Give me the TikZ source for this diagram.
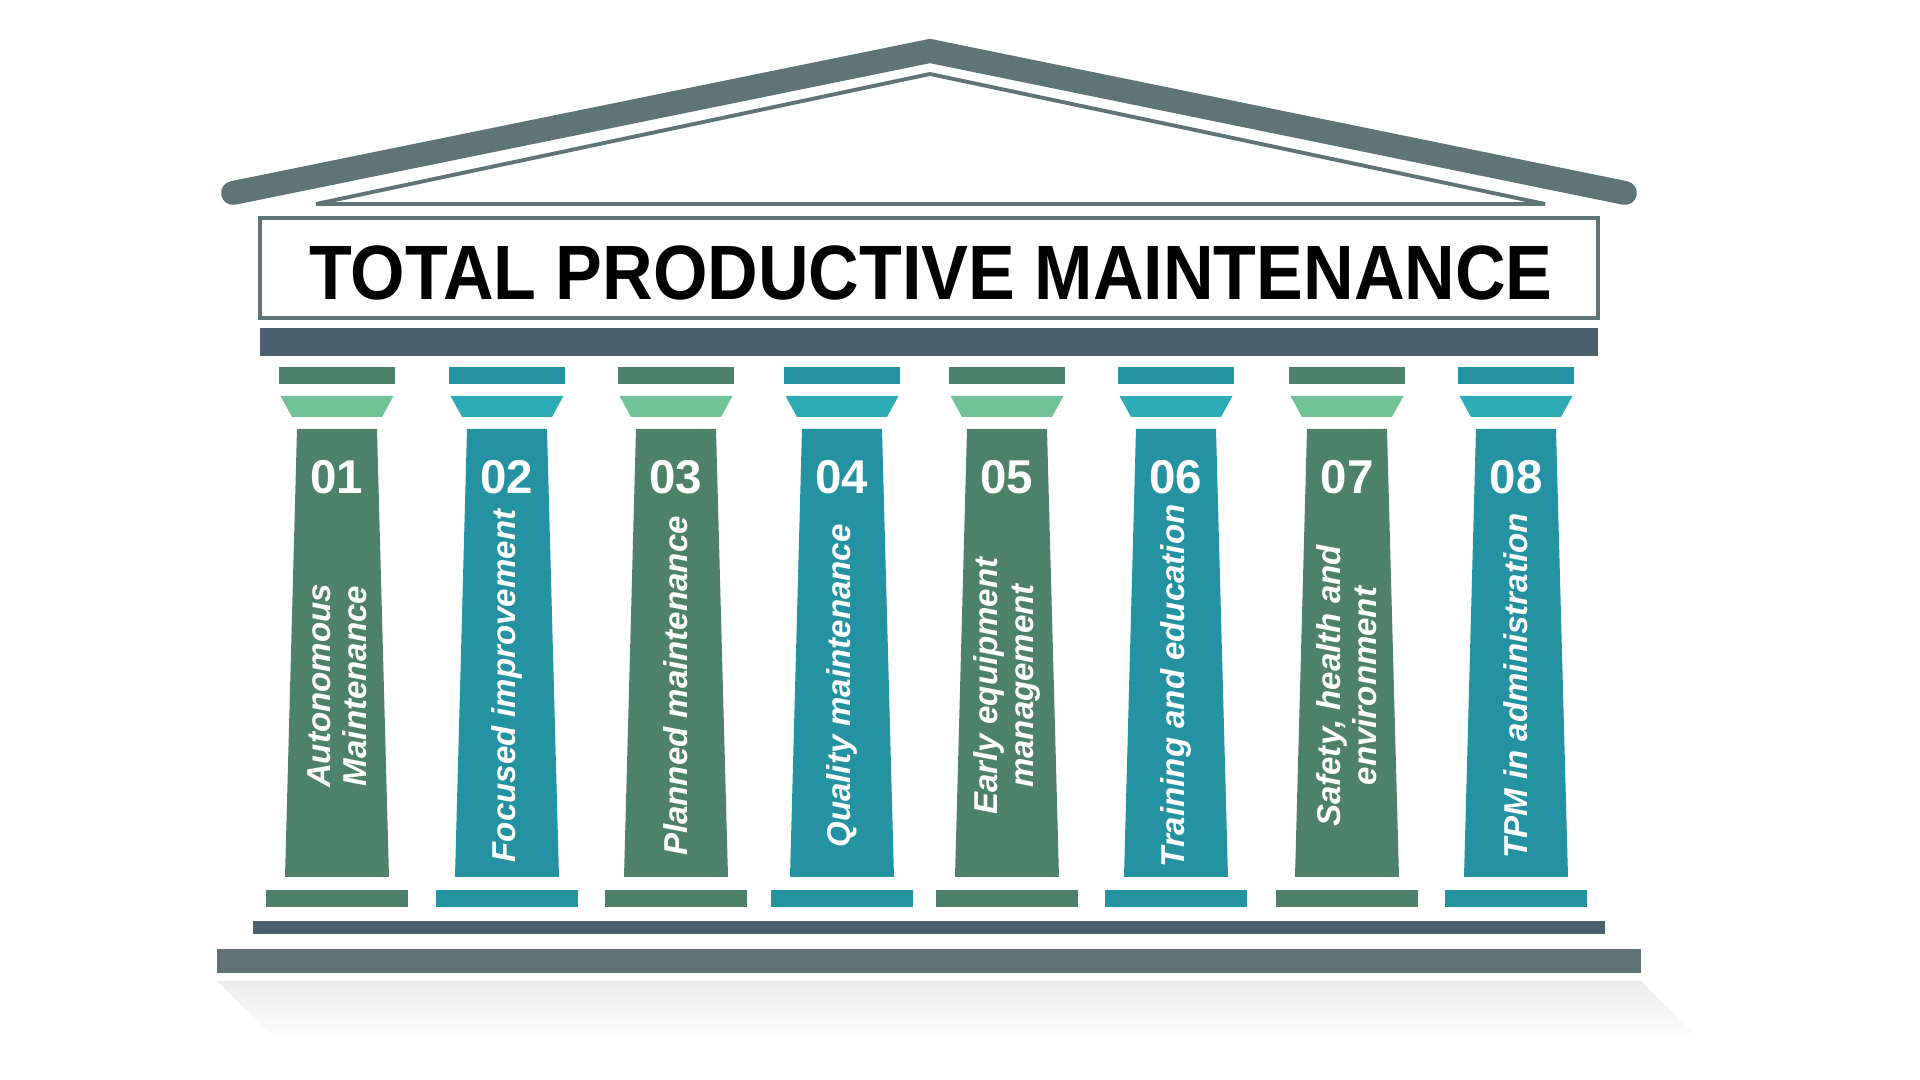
\documentclass[tikz,border=0pt]{standalone}
\usepackage{fontspec}
\setmainfont{Liberation Sans}
\newfontfamily\titlefont[FakeStretch=0.91]{Liberation Sans}

\definecolor{pgreen}{HTML}{4E8268}
\definecolor{pteal}{HTML}{2492A0}
\definecolor{lgreen}{HTML}{72C197}
\definecolor{lteal}{HTML}{2EACB6}
\definecolor{roofgray}{HTML}{5F7475}
\definecolor{slate}{HTML}{4A606E}

\tikzset{
  num/.style={text=white, inner sep=0pt, font=\bfseries\fontsize{13.5pt}{15pt}\selectfont},
  lbl/.style={text=white, inner sep=0pt, align=center, font=\bfseries\itshape\fontsize{9.4pt}{10.2pt}\selectfont}
}

\begin{document}
\begin{tikzpicture}[x=0.01cm, y=-0.01cm]
      \useasboundingbox (0,0) rectangle (1920,1080);

      \draw[roofgray, line width=6.8pt, line cap=round, line join=miter] (233,193) -- (930,51) -- (1625,193);
      \draw[roofgray, line width=1.1pt, line join=bevel] (316,204) -- (930,74) -- (1545,204) -- cycle;

      \draw[roofgray, fill=white, line width=1pt] (260,218) rectangle (1598,318);
      \node[anchor=base, inner sep=0pt, font=\titlefont\bfseries\fontsize{21.9pt}{24pt}\selectfont] (title) at (931,300) {TOTAL PRODUCTIVE MAINTENANCE};

      \fill[slate] (260,328) rectangle (1598,356);

      \foreach \i/\cx/\dark/\light/\txt in {1/337/pgreen/lgreen/{Autonomous\\Maintenance},
                                       2/507/pteal/lteal/{Focused improvement},
                                       3/676/pgreen/lgreen/{Planned maintenance},
                                       4/842/pteal/lteal/{Quality maintenance},
                                       5/1007/pgreen/lgreen/{Early equipment\\management},
                                       6/1176/pteal/lteal/{Training and education},
                                       7/1347/pgreen/lgreen/{Safety, health and\\environment},
                                       8/1516/pteal/lteal/{TPM in administration}}{
        \fill[\dark] (\cx-58,367) rectangle (\cx+58,384);
        \fill[\light] (\cx-56.5,396) -- (\cx+56.5,396) -- (\cx+45,417) -- (\cx-45,417) -- cycle;
        \fill[\dark] (\cx-40,429) -- (\cx+40,429) -- (\cx+52,877) -- (\cx-52,877) -- cycle;
        \fill[\dark] (\cx-71,890) rectangle (\cx+71,907);
        \node[num, anchor=base] (num\i) at (\cx,494) {0\i};
        \node[lbl, rotate=90] (lbl\i) at (\cx,686) {\txt};
      }

      \fill[slate] (253,921) rectangle (1605,934);
      \fill[roofgray] (217,949) rectangle (1641,973);
      \shade[top color=black!8, bottom color=white] (217,981) -- (1641,981) -- (1702,1042) -- (278,1042) -- cycle;

  \end{tikzpicture}
\end{document}
